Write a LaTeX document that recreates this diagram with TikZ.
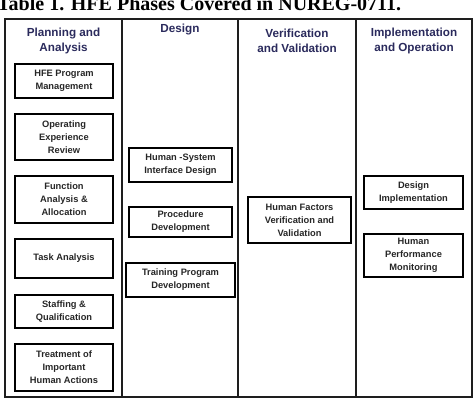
\documentclass[tikz,border=0pt]{standalone}
\usepackage{fontspec}
\setmainfont{Liberation Sans}
\newfontfamily\titlefont{Liberation Serif}
\definecolor{headnavy}{HTML}{2A2A5C}
\definecolor{boxtext}{HTML}{262626}
\definecolor{framegray}{HTML}{1E1E1E}
\begin{document}
\begin{tikzpicture}[x=1pt,y=-1pt,
  stagebox/.style={draw=black,line width=1.8pt,rectangle,inner sep=0pt,
    align=center,font=\fontsize{9.3}{13}\selectfont\bfseries,text=boxtext},
  headtext/.style={font=\fontsize{11.7}{15}\selectfont\bfseries,text=headnavy,align=center,inner sep=0pt},
  framestyle/.style={draw=framegray,line width=1.5pt}]
\useasboundingbox (0,0) rectangle (474,401);
\node[anchor=base west,font=\titlefont\fontsize{20}{24}\selectfont\bfseries,inner sep=0pt] (title) at (-3,11) {Table 1. HFE Phases Covered in NUREG-0711.};
% frame
\draw[framestyle] (5,19) rectangle (472,397);
\coordinate (d1t) at (122,19); \coordinate (d1b) at (122,397);
\coordinate (d2t) at (238,19); \coordinate (d2b) at (238,397);
\coordinate (d3t) at (356,19); \coordinate (d3b) at (356,397);
\draw[framestyle] (d1t) -- (d1b);
\draw[framestyle] (d2t) -- (d2b);
\draw[framestyle] (d3t) -- (d3b);
% headers
\node[headtext] (h1) at (63.5,40.5) {Planning and\\Analysis};
\node[headtext] (h2) at (180,30) {Design};
\node[headtext] (h3) at (297,40.5) {Verification\\and Validation};
\node[headtext] (h4) at (414,40.5) {Implementation\\and Operation};
% column 1
\node[stagebox,minimum width=98pt,minimum height=34pt] (a1) at (64,81) {HFE Program\\Management};
\node[stagebox,minimum width=98pt,minimum height=46pt] (a2) at (64,137) {Operating\\Experience\\Review};
\node[stagebox,minimum width=98pt,minimum height=47pt] (a3) at (64,199.5) {Function\\Analysis \&\\Allocation};
\node[stagebox,minimum width=98pt,minimum height=39pt] (a4) at (64,258.5) {Task Analysis};
\node[stagebox,minimum width=98pt,minimum height=33pt] (a5) at (64,311.5) {Staffing \&\\Qualification};
\node[stagebox,minimum width=98pt,minimum height=47pt] (a6) at (64,367.5) {Treatment of\\Important\\Human Actions};
% column 2
\node[stagebox,minimum width=103pt,minimum height=34pt] (b1) at (180.5,165) {Human -System\\Interface Design};
\node[stagebox,minimum width=103pt,minimum height=30pt] (b2) at (180.5,222) {Procedure\\Development};
\node[stagebox,minimum width=109pt,minimum height=34pt] (b3) at (180.5,280) {Training Program\\Development};
% column 3
\node[stagebox,minimum width=103pt,minimum height=46pt] (c1) at (299.5,220) {Human Factors\\Verification and\\Validation};
% column 4
\node[stagebox,minimum width=99pt,minimum height=33pt] (e1) at (413.5,192.5) {Design\\Implementation};
\node[stagebox,minimum width=99pt,minimum height=43pt] (e2) at (413.5,255.5) {Human\\Performance\\Monitoring};
\end{tikzpicture}
\end{document}
